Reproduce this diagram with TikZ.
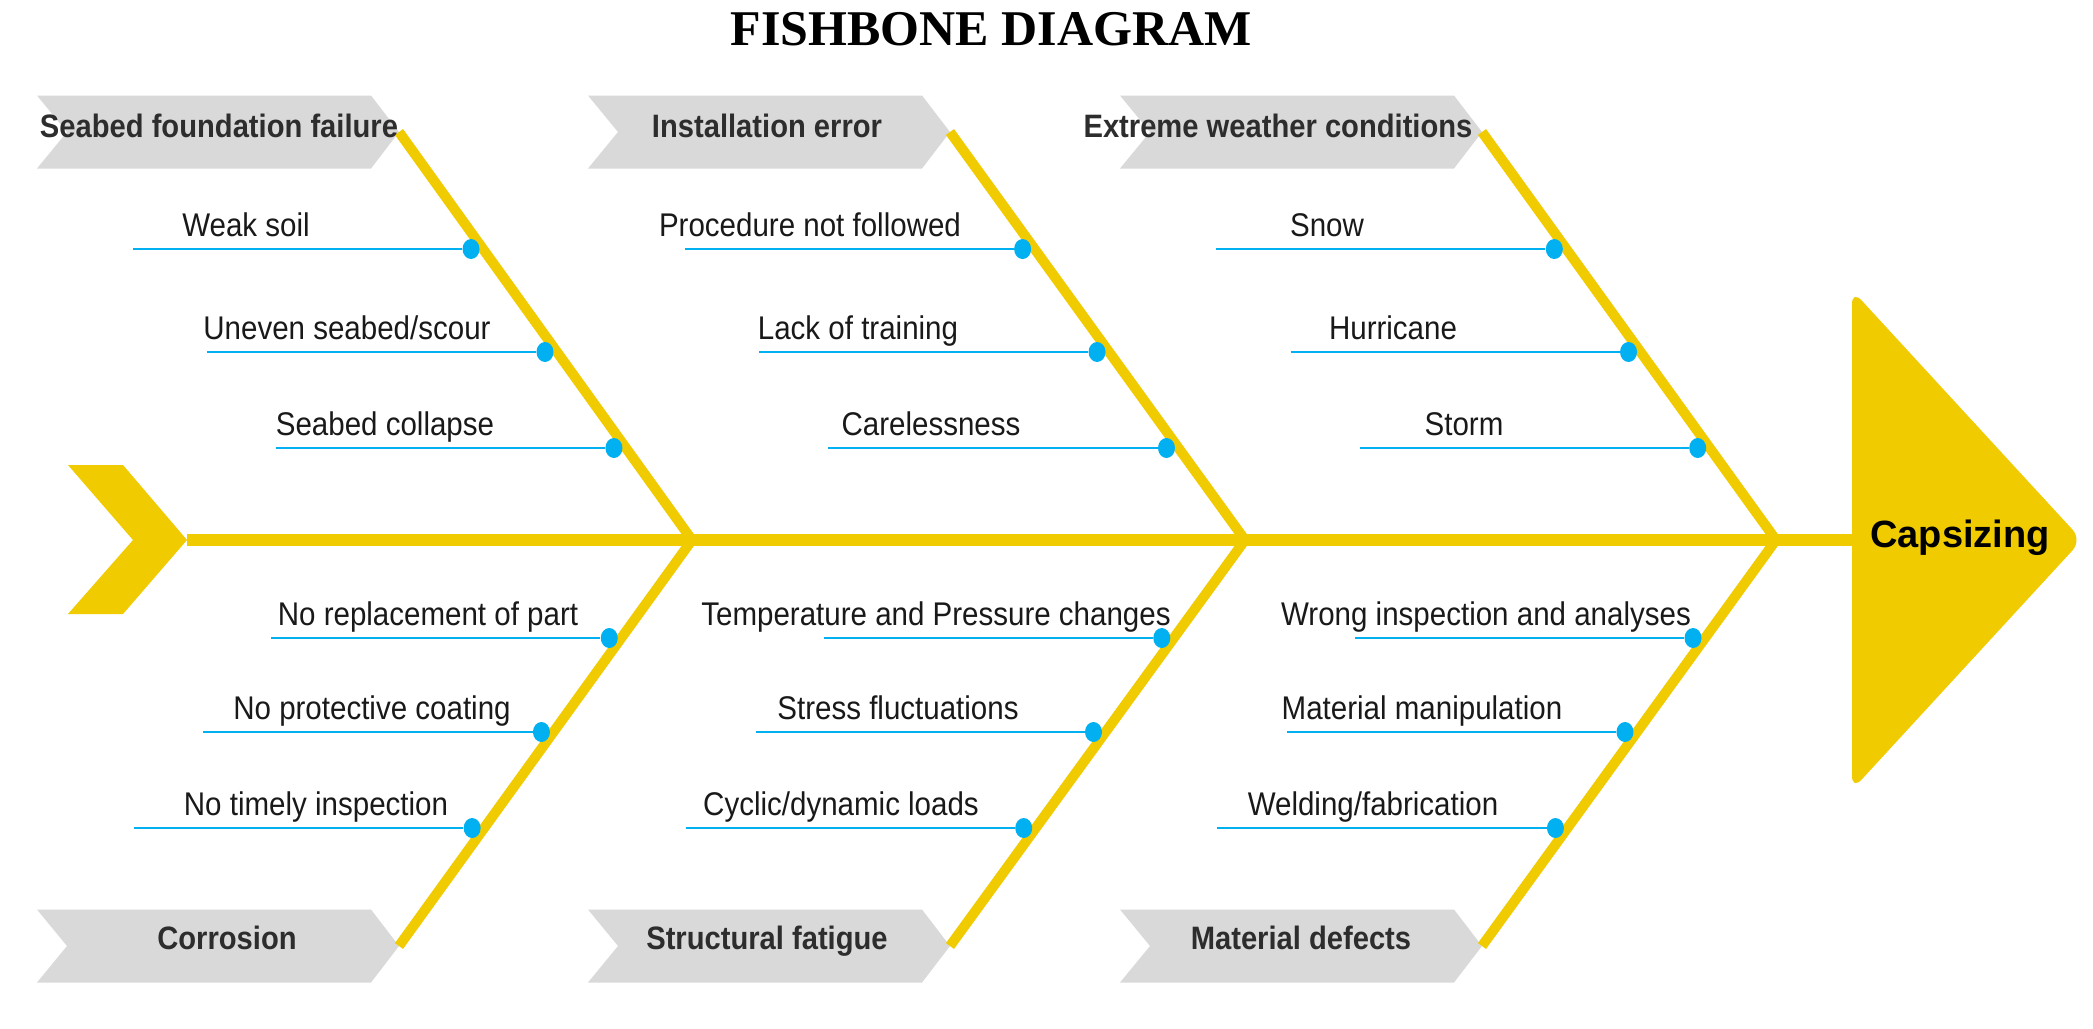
\documentclass[tikz,border=0pt]{standalone}
\usepackage{fontspec}
\usetikzlibrary{calc,shapes.geometric}
\newfontfamily\titlefont{Liberation Serif}
\newfontfamily\lblfont[FakeStretch=0.9]{Liberation Sans}
\newfontfamily\capfont{Liberation Sans}
\definecolor{fishyellow}{RGB}{239,203,0}
\definecolor{boxgray}{RGB}{217,217,217}
\definecolor{boneblue}{RGB}{0,176,240}
\definecolor{labeldark}{RGB}{45,45,45}
\definecolor{textdark}{RGB}{25,25,25}
\begin{document}
\begin{tikzpicture}[x=0.5pt,y=-0.5pt,
  spine/.style={fishyellow,line width=6pt},
  bone/.style={fishyellow,line width=5pt,line join=miter},
  subline/.style={boneblue,line width=1.35pt},
  dotst/.style={ellipse,fill=boneblue,inner sep=0pt,minimum width=8.5pt,minimum height=10pt},
  cat/.style={font=\lblfont\bfseries\fontsize{16.2}{18}\selectfont,text=labeldark,anchor=base,inner sep=0pt},
  cause/.style={font=\lblfont\fontsize{16.4}{18}\selectfont,text=textdark,anchor=base,inner sep=0pt},
  catbox/.pic={\fill[boxgray] (0,-36.5) -- (334,-36.5) -- (362,0) -- (334,36.5) -- (0,36.5) -- (30,0) -- cycle;}
]
\fill[white] (0,0) rectangle (2093,1028);
\useasboundingbox (0,0) rectangle (2093,1028);

% title
\node[font=\titlefont\bfseries\fontsize{25}{28}\selectfont,anchor=base,inner sep=0pt] (title) at (991,46) {FISHBONE DIAGRAM};

% category boxes
\pic at (37,132) {catbox};
\pic at (588,132) {catbox};
\pic at (1120,132) {catbox};
\pic at (37,946) {catbox};
\pic at (588,946) {catbox};
\pic at (1120,946) {catbox};

% key coordinates
\coordinate (t1) at (399,132);
\coordinate (t2) at (950,132);
\coordinate (t3) at (1482,132);
\coordinate (j1) at (692,540);
\coordinate (j2) at (1245,540);
\coordinate (j3) at (1776,540);
\coordinate (b1) at (399,946);
\coordinate (b2) at (950,946);
\coordinate (b3) at (1482,946);
\coordinate (tail) at (187,540);
\coordinate (head) at (1852,540);

% bones
\draw[bone] (t1) -- (j1) -- (b1);
\draw[bone] (t2) -- (j2) -- (b2);
\draw[bone] (t3) -- (j3) -- (b3);

% spine, tail and head
\draw[spine] (tail) -- (head);
\fill[fishyellow] (68,465) -- (123,465) -- (187,540) -- (123,614) -- (68,614) -- (133,540) -- cycle;
\fill[fishyellow,rounded corners=7pt] (1852,290) -- (2082,540) -- (1852,790) -- cycle;
\node[font=\capfont\bfseries\fontsize{19}{22}\selectfont,anchor=base,inner sep=0pt] (effect) at (1960,547) {Capsizing};

% category labels
\node[cat] (cat1) at (219,137) {Seabed foundation failure};
\node[cat] (cat2) at (767,137) {Installation error};
\node[cat] (cat3) at (1278,137) {Extreme weather conditions};
\node[cat] (cat4) at (227,949) {Corrosion};
\node[cat] (cat5) at (767,949) {Structural fatigue};
\node[cat] (cat6) at (1301,949) {Material defects};

% cause dots and lines
\foreach \bn in {1,2,3}{
  \node[dotst] (u\bn a) at ($(t\bn)!0.2868!(j\bn)+(-12,0)$) {};
  \node[dotst] (u\bn b) at ($(t\bn)!0.5392!(j\bn)+(-12,0)$) {};
  \node[dotst] (u\bn c) at ($(t\bn)!0.7745!(j\bn)+(-12,0)$) {};
  \node[dotst] (d\bn a) at ($(j\bn)!0.2414!(b\bn)+(-12,0)$) {};
  \node[dotst] (d\bn b) at ($(j\bn)!0.4729!(b\bn)+(-12,0)$) {};
  \node[dotst] (d\bn c) at ($(j\bn)!0.7094!(b\bn)+(-12,0)$) {};
  \foreach \s in {a,b,c}{
    \coordinate (u\bn\s s) at ($(u\bn\s)+(-338,0)$);
    \coordinate (d\bn\s s) at ($(d\bn\s)+(-338,0)$);
    \draw[subline] (u\bn\s s) -- (u\bn\s);
    \draw[subline] (d\bn\s s) -- (d\bn\s);
  }
}

\node[cause] (lu1a) at (246,236) {Weak soil};
\node[cause] (lu1b) at (347,339) {Uneven seabed/scour};
\node[cause] (lu1c) at (385,435) {Seabed collapse};
\node[cause] (lu2a) at (810,236) {Procedure not followed};
\node[cause] (lu2b) at (858,339) {Lack of training};
\node[cause] (lu2c) at (931,435) {Carelessness};
\node[cause] (lu3a) at (1327,236) {Snow};
\node[cause] (lu3b) at (1393,339) {Hurricane};
\node[cause] (lu3c) at (1464,435) {Storm};

\node[cause] (ld1a) at (428,625) {No replacement of part};
\node[cause] (ld1b) at (372,719) {No protective coating};
\node[cause] (ld1c) at (316,815) {No timely inspection};
\node[cause] (ld2a) at (936,625) {Temperature and Pressure changes};
\node[cause] (ld2b) at (898,719) {Stress fluctuations};
\node[cause] (ld2c) at (841,815) {Cyclic/dynamic loads};
\node[cause] (ld3a) at (1486,625) {Wrong inspection and analyses};
\node[cause] (ld3b) at (1422,719) {Material manipulation};
\node[cause] (ld3c) at (1373,815) {Welding/fabrication};
\end{tikzpicture}
\end{document}
